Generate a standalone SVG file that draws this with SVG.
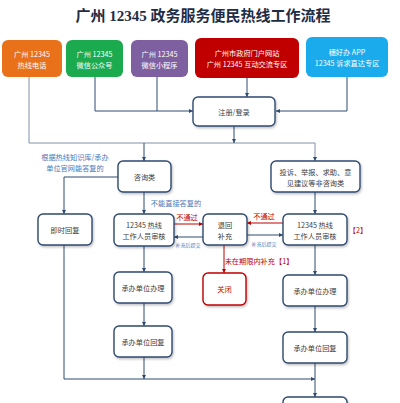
<svg xmlns="http://www.w3.org/2000/svg" width="400" height="403" viewBox="0 0 400 403">
<defs>
<marker id="ab" viewBox="0 0 6 6" refX="6" refY="3" markerWidth="4" markerHeight="4" orient="auto"><path d="M0,0 L6,3 L0,6 z" fill="#2F4A70"/></marker>
<marker id="ar" viewBox="0 0 6 6" refX="6" refY="3" markerWidth="4" markerHeight="4" orient="auto"><path d="M0,0 L6,3 L0,6 z" fill="#C00000"/></marker>
<filter id="sh" x="-10%" y="-10%" width="130%" height="140%"><feDropShadow dx="1" dy="1.5" stdDeviation="1" flood-color="#000" flood-opacity="0.25"/></filter>
</defs>
<style>
text{font-family:"Noto Sans CJK SC","Liberation Sans",sans-serif;font-size:7.2px;text-anchor:middle;dominant-baseline:central}
.title{font-family:"Liberation Serif","Noto Sans CJK SC",serif;font-size:15px;font-weight:bold;fill:#1F2D44;dominant-baseline:alphabetic}
.src text{fill:#fff}
.box rect{fill:#fff;stroke:#2F4A70;stroke-width:1.4;filter:url(#sh)}
.box text{fill:#404040}
.red rect{stroke:#C00000}
.red text{fill:#C00000}
.lb{fill:#4A78B8}
.lr{fill:#C00000}
.sm{font-size:5px}
.c path{fill:none;stroke:#2F4A70;stroke-width:1}
.c path.r{stroke:#C00000}
.c path.g{stroke:#8090A8}
</style>
<rect width="400" height="403" fill="#fff"/>
<text class="title" x="203" y="21">广州 12345 政务服务便民热线工作流程</text>

<g id="connectors" class="c">
<path class="g" d="M29,77 V143 H315 V161" marker-end="url(#ab)"/>
<path d="M95,77 V111 H193" marker-end="url(#ab)"/>
<path d="M157,77 V111"/>
<path d="M247,78 V97" marker-end="url(#ab)"/>
<path d="M347,77 V111 H276" marker-end="url(#ab)"/>
<path d="M234,126 V143" marker-end="url(#ab)"/>
<path d="M144,143 V161" marker-end="url(#ab)"/>
<path d="M118,177 H64 V214" marker-end="url(#ab)"/>
<path d="M144,192 V214" marker-end="url(#ab)"/>
<path class="r" d="M174,224 H203" marker-end="url(#ar)"/>
<path d="M203,237 H174" marker-end="url(#ab)"/>
<path class="r" d="M283,223 H247" marker-end="url(#ar)"/>
<path d="M247,235 H283" marker-end="url(#ab)"/>
<path class="r" d="M224,245 V273" marker-end="url(#ar)"/>
<path d="M315,192 V214" marker-end="url(#ab)"/>
<path d="M144,246 V272" marker-end="url(#ab)"/>
<path d="M144,303 V326" marker-end="url(#ab)"/>
<path d="M144,357 V379" marker-end="url(#ab)"/>
<path d="M315,245 V275" marker-end="url(#ab)"/>
<path d="M315,306 V332" marker-end="url(#ab)"/>
<path d="M315,363 V397" marker-end="url(#ab)"/>
<path d="M64,245 V379 H315" marker-end="url(#ab)"/>
</g>

<g id="labels">
<text class="lb" x="75" y="157">根据热线知识库/承办</text>
<text class="lb" x="75" y="168">单位官网能答复的</text>
<text class="lb" x="176" y="203">不能直接答复的</text>
<text class="lr" x="187" y="217">不通过</text>
<text class="lb sm" x="188" y="244">补充后提交</text>
<text class="lr" x="264" y="216">不通过</text>
<text class="lb sm" x="264" y="243">补充后提交</text>
<text class="lr" x="259" y="261">未在期限内补充【1】</text>
<text class="lr" x="358" y="230">【2】</text>
</g>

<g id="n1" class="src"><rect x="2" y="40" width="60" height="37" rx="6" fill="#E8711A"/><text x="32" y="54">广州 12345</text><text x="32" y="65">热线电话</text></g>
<g id="n2" class="src"><rect x="66" y="40" width="57" height="37" rx="6" fill="#1BAA4E"/><text x="94.5" y="54">广州 12345</text><text x="94.5" y="65">微信公众号</text></g>
<g id="n3" class="src"><rect x="131" y="40" width="57" height="37" rx="6" fill="#7E5FA0"/><text x="159.5" y="54">广州 12345</text><text x="159.5" y="65">微信小程序</text></g>
<g id="n4" class="src"><rect x="195" y="38" width="104" height="40" rx="6" fill="#C00000"/><text x="247" y="53">广州市政府门户网站</text><text x="247" y="64">广州 12345 互动交流专区</text></g>
<g id="n5" class="src"><rect x="306" y="37" width="82" height="40" rx="6" fill="#1AABEC"/><text x="347" y="52">穗好办 APP</text><text x="347" y="63">12345 诉求直达专区</text></g>

<g id="n6" class="box"><rect x="193" y="97" width="82" height="29" rx="5"/><text x="234" y="112">注册/登录</text></g>
<g id="n7" class="box"><rect x="118" y="161" width="53" height="31" rx="5"/><text x="144.5" y="177">咨询类</text></g>
<g id="n8" class="box"><rect x="271" y="161" width="89" height="31" rx="5"/><text x="315.5" y="172">投诉、举报、求助、意</text><text x="315.5" y="183">见建议等非咨询类</text></g>
<g id="n9" class="box"><rect x="38" y="214" width="54" height="31" rx="5"/><text x="65" y="230">即时回复</text></g>
<g id="n10" class="box"><rect x="114" y="214" width="60" height="32" rx="5"/><text x="144" y="225">12345 热线</text><text x="144" y="236">工作人员审核</text></g>
<g id="n11" class="box"><rect x="203" y="214" width="44" height="31" rx="5"/><text x="225" y="225">退回</text><text x="225" y="236">补充</text></g>
<g id="n12" class="box"><rect x="283" y="214" width="64" height="31" rx="5"/><text x="315" y="225">12345 热线</text><text x="315" y="236">工作人员审核</text></g>
<g id="n13" class="box red"><rect x="203" y="273" width="43" height="32" rx="5"/><text x="224.5" y="289">关闭</text></g>
<g id="n14" class="box"><rect x="114" y="272" width="58" height="31" rx="5"/><text x="143" y="288">承办单位办理</text></g>
<g id="n15" class="box"><rect x="114" y="326" width="58" height="31" rx="5"/><text x="143" y="342">承办单位回复</text></g>
<g id="n16" class="box"><rect x="283" y="275" width="64" height="31" rx="5"/><text x="315" y="291">承办单位办理</text></g>
<g id="n17" class="box"><rect x="283" y="332" width="64" height="31" rx="5"/><text x="315" y="348">承办单位回复</text></g>
<g id="n18" class="box"><rect x="283" y="397" width="64" height="31" rx="5"/></g>
</svg>
